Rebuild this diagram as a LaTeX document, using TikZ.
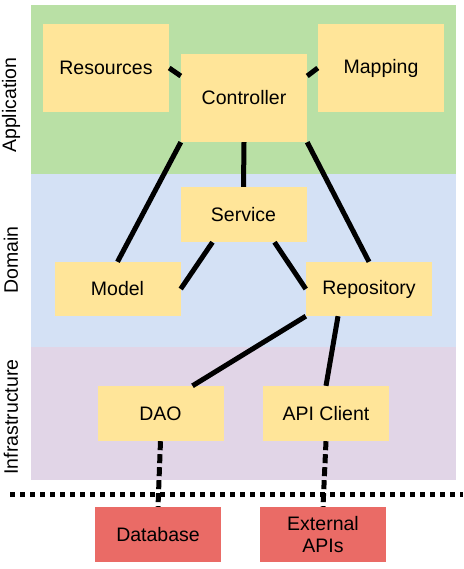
\documentclass[tikz,border=0pt]{standalone}
\usepackage{fontspec}
\setmainfont{Liberation Sans}
\usepackage{tikz}
\usetikzlibrary{calc}

\definecolor{appgreen}{HTML}{B9E0A5}
\definecolor{domblue}{HTML}{D4E1F5}
\definecolor{infpurple}{HTML}{E1D5E7}
\definecolor{boxyellow}{HTML}{FFE599}
\definecolor{extred}{HTML}{EA6B66}

\tikzset{
  part/.style={fill=boxyellow, minimum width=126pt, inner sep=0pt, align=center},
  outside/.style={fill=extred, minimum width=126pt, minimum height=55pt, inner sep=0pt, align=center},
  link/.style={line width=5pt},
  extlink/.style={line width=5pt, dash pattern=on 9pt off 4pt},
  layername/.style={rotate=90, inner sep=0pt}
}

\begin{document}
\begin{tikzpicture}[x=1pt, y=-1pt, font=\fontsize{19.5}{22}\selectfont]
\useasboundingbox (0,0) rectangle (463,569);

% Layers
\fill[appgreen] (31,5) rectangle (456,174);
\fill[domblue] (31,174) rectangle (456,347);
\fill[infpurple] (31,347) rectangle (456,480);

\node[layername] (appname) at (11,105) {Application};
\node[layername] (domname) at (11,260) {Domain};
\node[layername] (infname) at (11,417) {Infrastructure};

% Application
\node[part, minimum height=88pt] (res) at (106,68) {Resources};
\node[part, minimum height=88pt] (ctrl) at (244,98) {Controller};
\node[part, minimum height=88pt] (map) at (381,68) {Mapping};

% Domain
\node[part, minimum height=55pt] (svc) at (243.5,214.5) {Service};
\node[part, minimum height=54pt] (model) at (117.5,289) {Model};
\node[part, minimum height=54pt] (repo) at (369,289) {Repository};

% Infrastructure
\node[part, minimum height=55pt] (dao) at (160.5,413.5) {DAO};
\node[part, minimum height=55pt] (api) at (326,413.5) {API Client};

% Outside the system
\node[outside] (db) at (158,534.5) {Database};
\node[outside] (ext) at (323,534.5) {External\\APIs};

% Boundary
\coordinate (bl) at (10,494);
\coordinate (br) at (463,494);
\draw[line width=5pt, dash pattern=on 5pt off 5pt] (bl) -- (br);

% Connections
\draw[link] (res.east) -- ([yshift=22pt]ctrl.west);
\draw[link] (map.west) -- ([yshift=22pt]ctrl.east);
\draw[link] (ctrl.south west) -- (model.north);
\draw[link] (ctrl.south) -- (svc.north);
\draw[link] (ctrl.south east) -- (repo.north);
\draw[link] ([xshift=-31pt]svc.south) -- (model.east);
\draw[link] ([xshift=31pt]svc.south) -- (repo.west);
\draw[link] (repo.south west) -- ([xshift=32pt]dao.north);
\draw[link] ([xshift=-31pt]repo.south) -- (api.north);
\draw[extlink] (dao.south) -- (db.north);
\draw[extlink] (api.south) -- (ext.north);

\end{tikzpicture}
\end{document}
